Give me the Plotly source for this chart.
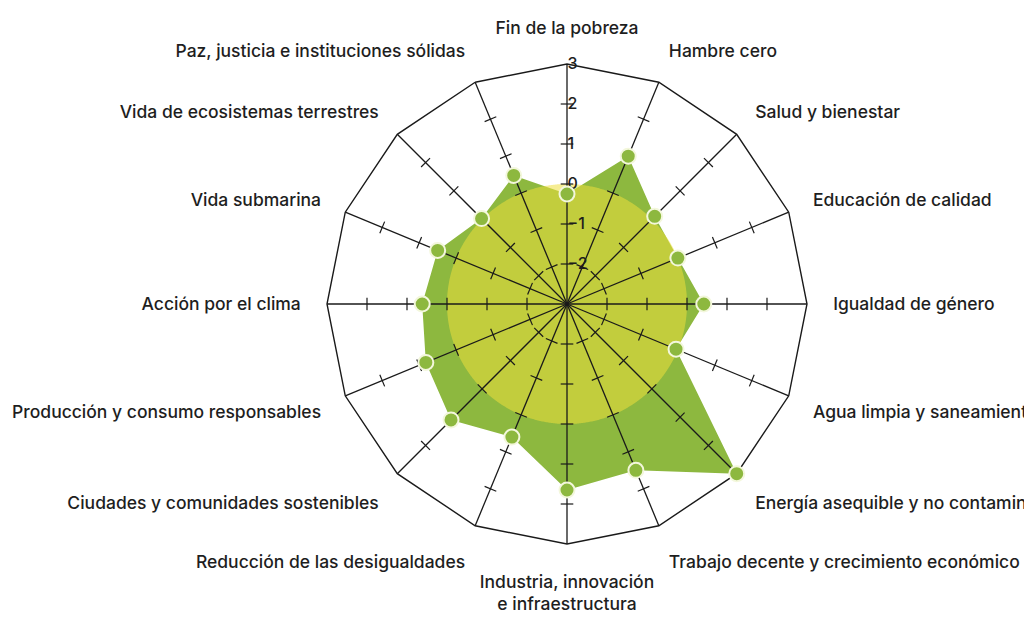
import plotly.graph_objects as go

# ODS (Objetivos de Desarrollo Sostenible), clockwise from the top
categorias = [
    "Fin de la pobreza",
    "Hambre cero",
    "Salud y bienestar",
    "Educación de calidad",
    "Igualdad de género",
    "Agua limpia y saneamiento",
    "Energía asequible y no contaminante",
    "Trabajo decente y crecimiento económico",
    "Industria, innovación<br>e infraestructura",
    "Reducción de las desigualdades",
    "Ciudades y comunidades sostenibles",
    "Producción y consumo responsables",
    "Acción por el clima",
    "Vida submarina",
    "Vida de ecosistemas terrestres",
    "Paz, justicia e instituciones sólidas",
]
valores = [-0.25, 1.0, 0.1, 0.0, 0.42, -0.05, 3.0, 1.5, 1.65, 0.6, 1.1, 0.82, 0.62, 0.5, 0.02, 0.48]

escala = [-3, 3]
marcas = [-2, -1, 0, 1, 2]
etiquetas_radiales = [-2, -1, 0, 1, 2, 3]
referencia = 0  # the "0" circle

VERDE = "#8db83f"
LINEA = "#1a1a1a"
TEXTO = "#1e1e1e"
FUENTE = "Inter, Roboto, sans-serif"

n = len(categorias)
paso = 360 / n
angulos = [i * paso for i in range(n)]

fig = go.Figure()

# --- bottom subplot (numeric angles): filled area + reference circle
fig.add_trace(go.Scatterpolar(
    r=valores + valores[:1], theta=angulos + angulos[:1],
    mode="lines", fill="toself", fillcolor=VERDE,
    line=dict(color=VERDE, width=0), hoverinfo="skip", subplot="polar",
))
circ = [i * 0.5 for i in range(721)]
fig.add_trace(go.Scatterpolar(
    r=[referencia] * len(circ), theta=circ,
    mode="lines", fill="toself", fillcolor="rgba(238,222,60,0.55)",
    line=dict(width=0), hoverinfo="skip", subplot="polar",
))

# --- middle subplot (categories): spokes, outline, labels
for c in categorias:
    fig.add_trace(go.Scatterpolar(
        r=escala, theta=[c, c], mode="lines", subplot="polar2",
        line=dict(color=LINEA, width=1.3), hoverinfo="skip",
    ))

# --- top subplot (numeric angles): ticks across spokes + points
tr, ta = [], []
for a in angulos:
    for m in marcas:
        tr.append(m)
        ta.append(a)
fig.add_trace(go.Scatterpolar(
    r=tr, theta=ta, mode="markers", hoverinfo="skip", subplot="polar3",
    marker=dict(symbol="line-ew", size=9, angle=ta, color=LINEA,
                line=dict(color=LINEA, width=1.2)),
))

fig.add_trace(go.Scatterpolar(
    r=valores, theta=angulos, mode="markers", subplot="polar3",
    marker=dict(size=15, color=VERDE, line=dict(color="#f3f7dc", width=2)),
))

cx, cy, rad = 559, 296, 240
W, H = 1032, 629
dom = dict(x=[(cx - rad) / W, (cx + rad) / W],
           y=[1 - (cy + rad) / H, 1 - (cy - rad) / H])
oculto = dict(
    domain=dom, bgcolor="rgba(0,0,0,0)",
    radialaxis=dict(range=escala, visible=False),
    angularaxis=dict(rotation=90, direction="clockwise", visible=False),
)
letra = dict(family=FUENTE, size=17.5, color=TEXTO, weight=500)

fig.update_layout(
    width=W, height=H,
    margin=dict(l=0, r=0, t=0, b=0),
    paper_bgcolor="white",
    showlegend=False,
    font=letra,
    polar=oculto,
    polar3=oculto,
    polar2=dict(
        domain=dom, bgcolor="rgba(0,0,0,0)",
        gridshape="linear",
        radialaxis=dict(
            range=escala, angle=90, tickangle=90,
            tickvals=etiquetas_radiales, ticks="",
            showgrid=False, showline=False,
            tickfont=dict(family=FUENTE, size=16, color=TEXTO),
        ),
        angularaxis=dict(
            rotation=90, direction="clockwise",
            categoryorder="array", categoryarray=categorias,
            showgrid=False, showline=True,
            linecolor=LINEA, linewidth=1.4,
            ticks="outside", ticklen=22, tickcolor="rgba(0,0,0,0)",
            tickfont=letra,
        ),
    ),
)

fig.write_html("out.html")
